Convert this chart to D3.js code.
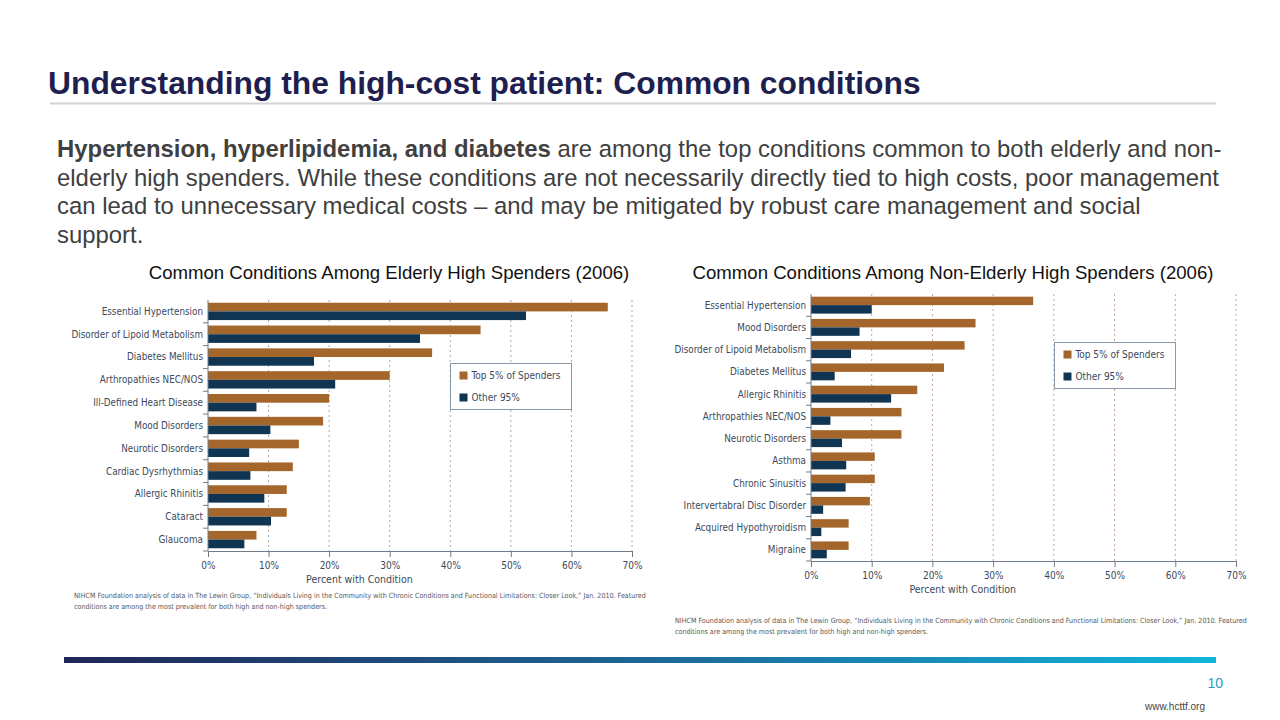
<!DOCTYPE html>
<html>
<head>
<meta charset="utf-8">
<script src="https://cdn.jsdelivr.net/npm/d3@7/dist/d3.min.js"></script>
<style>
  html, body { margin: 0; padding: 0; background: #fff; }
  svg { display: block; }
</style>
</head>
<body>
<svg id="slide" width="1280" height="720"></svg>
<script>
// chart data
const elderlyConditions = ["Essential Hypertension", "Disorder of Lipoid Metabolism", "Diabetes Mellitus",
  "Arthropathies NEC/NOS", "Ill-Defined Heart Disease", "Mood Disorders", "Neurotic Disorders",
  "Cardiac Dysrhythmias", "Allergic Rhinitis", "Cataract", "Glaucoma"];
const elderlyTop5 = [66, 45, 37, 30, 20, 19, 15, 14, 13, 13, 8];
const elderlyOther95 = [52.5, 35, 17.5, 21, 8, 10.3, 6.8, 7, 9.3, 10.4, 6];

const nonElderlyConditions = ["Essential Hypertension", "Mood Disorders", "Disorder of Lipoid Metabolism",
  "Diabetes Mellitus", "Allergic Rhinitis", "Arthropathies NEC/NOS", "Neurotic Disorders", "Asthma",
  "Chronic Sinusitis", "Intervertabral Disc Disorder", "Acquired Hypothyroidism", "Migraine"];
const nonElderlyTop5 = [36.6, 27.1, 25.3, 21.9, 17.5, 14.9, 14.9, 10.5, 10.5, 9.7, 6.2, 6.2];
const nonElderlyOther95 = [10, 8, 6.6, 3.9, 13.2, 3.2, 5.1, 5.8, 5.7, 2.0, 1.7, 2.6];

const xTicks = [0, 10, 20, 30, 40, 50, 60, 70];
const seriesNames = ["Top 5% of Spenders", "Other 95%"];
const seriesColors = ["#a5662c", "#0f3553"];

const footnote = ["NIHCM Foundation analysis of data in The Lewin Group, \u201cIndividuals Living in the Community with Chronic Conditions and Functional Limitations: Closer Look,\u201d Jan. 2010. Featured",
  "conditions are among the most prevalent for both high and non-high spenders."];

const svg = d3.select("#slide");
const chartFont = "'Liberation Sans Narrow', 'DejaVu Sans Condensed', Lato, sans-serif";
const textColor = "#3b4a5b";

// heading
svg.append("text")
  .attr("x", 48).attr("y", 94)
  .attr("fill", "#1e1f4f")
  .style("font-family", "'Liberation Sans', Arial, sans-serif")
  .style("font-size", "31.8px")
  .style("font-weight", "bold")
  .text("Understanding the high-cost patient: Common conditions");

svg.append("line")
  .attr("x1", 50).attr("x2", 1216).attr("y1", 103.5).attr("y2", 103.5)
  .attr("stroke", "#d4d4d4").attr("stroke-width", 2);

// paragraph
const para = svg.append("text")
  .attr("fill", "#404040")
  .style("font-family", "'Liberation Sans', Arial, sans-serif")
  .style("font-size", "23.9px");
const paraLines = [
  [["Hypertension, hyperlipidemia, and diabetes", true], [" are among the top conditions common to both elderly and non-", false]],
  [["elderly high spenders. While these conditions are not necessarily directly tied to high costs, poor management", false]],
  [["can lead to unnecessary medical costs \u2013 and may be mitigated by robust care management and social", false]],
  [["support.", false]]
];
paraLines.forEach((line, i) => {
  line.forEach((part, j) => {
    const t = para.append("tspan").text(part[0]).style("font-weight", part[1] ? "bold" : "normal");
    if (j === 0) t.attr("x", 57).attr("y", 157 + i * 28.6);
  });
});

function drawChart(opts) {
  const g = svg.append("g");
  const x = d3.scaleLinear().domain([0, 70]).range(opts.xRange);
  const y = d3.scaleBand().domain(opts.categories).range(opts.yRange).paddingInner(0.24).paddingOuter(0.12);
  const x0 = x(0);

  // subtitle
  g.append("text")
    .attr("x", opts.titleX).attr("y", opts.titleY)
    .attr("text-anchor", "middle")
    .attr("fill", "#111")
    .style("font-family", "'Liberation Sans', Arial, sans-serif")
    .style("font-size", "18.6px")
    .text(opts.title);

  // grid
  g.selectAll("line.grid").data(xTicks.slice(1)).enter().append("line")
    .attr("x1", d => x(d)).attr("x2", d => x(d))
    .attr("y1", opts.yRange[0]).attr("y2", opts.yRange[1])
    .attr("stroke", opts.gridColor).attr("stroke-width", 1)
    .attr("stroke-dasharray", "2,3");

  // bars
  const half = y.bandwidth() / 2;
  [opts.top5, opts.other95].forEach((vals, s) => {
    g.append("g").selectAll("rect").data(opts.categories).enter().append("rect")
      .attr("x", x0)
      .attr("y", d => y(d) + s * half)
      .attr("width", (d, i) => x(vals[i]) - x0)
      .attr("height", half)
      .attr("fill", seriesColors[s]);
  });

  // axes
  const axisColor = "#6f7d8b";
  const xAxis = g.append("g")
    .attr("transform", `translate(0,${opts.yRange[1]})`)
    .call(d3.axisBottom(x).tickValues(xTicks).tickSize(6).tickSizeOuter(0).tickFormat(d => d + "%"));
  xAxis.select(".domain").attr("stroke", axisColor);
  xAxis.selectAll(".tick line").attr("stroke", axisColor);
  xAxis.selectAll(".tick text")
    .attr("fill", textColor).attr("dy", "0.9em")
    .style("font-family", chartFont).style("font-size", "10px");

  g.append("line")
    .attr("x1", x0).attr("x2", x0)
    .attr("y1", opts.yRange[0]).attr("y2", opts.yRange[1])
    .attr("stroke", axisColor);

  // category separators on the y axis
  const step = y.step();
  const seps = opts.categories.map(d => y(d) - (step - y.bandwidth()) / 2).concat([opts.yRange[1]]);
  g.selectAll("line.sep").data(seps.slice(1)).enter().append("line")
    .attr("x1", x0 - 5).attr("x2", x0)
    .attr("y1", d => d).attr("y2", d => d)
    .attr("stroke", axisColor);

  g.selectAll("text.cat").data(opts.categories).enter().append("text")
    .attr("x", x0 - 5)
    .attr("y", d => y(d) + y.bandwidth() / 2)
    .attr("dy", "0.35em")
    .attr("text-anchor", "end")
    .attr("fill", textColor)
    .style("font-family", chartFont).style("font-size", "9.8px")
    .text(d => d);

  g.append("text")
    .attr("x", x(25)).attr("y", opts.yRange[1] + 32)
    .attr("text-anchor", "middle")
    .attr("fill", textColor)
    .style("font-family", chartFont).style("font-size", "10.5px")
    .text("Percent with Condition");

  // legend
  const lg = g.append("g").attr("transform", `translate(${opts.legend[0]},${opts.legend[1]})`);
  lg.append("rect").attr("width", 121).attr("height", 46)
    .attr("fill", "#fff").attr("stroke", "#8b98a6").attr("stroke-width", 1);
  seriesNames.forEach((name, i) => {
    lg.append("rect").attr("x", 9).attr("y", 8 + i * 22).attr("width", 8).attr("height", 8)
      .attr("fill", seriesColors[i]);
    lg.append("text").attr("x", 21).attr("y", 12 + i * 22).attr("dy", "0.35em")
      .attr("fill", textColor)
      .style("font-family", chartFont).style("font-size", "10px")
      .text(name);
  });

  // source note
  g.selectAll("text.note").data(footnote).enter().append("text")
    .attr("x", opts.note[0]).attr("y", (d, i) => opts.note[1] + i * 11)
    .attr("fill", "#555")
    .style("font-family", chartFont).style("font-size", "7.1px")
    .text(d => d);
}

drawChart({
  title: "Common Conditions Among Elderly High Spenders (2006)",
  titleX: 389, titleY: 279,
  categories: elderlyConditions, top5: elderlyTop5, other95: elderlyOther95,
  xRange: [208, 632], yRange: [300, 551],
  gridColor: "#a9a9a9",
  legend: [450.5, 363.5],
  note: [74, 598]
});

drawChart({
  title: "Common Conditions Among Non-Elderly High Spenders (2006)",
  titleX: 953, titleY: 279,
  categories: nonElderlyConditions, top5: nonElderlyTop5, other95: nonElderlyOther95,
  xRange: [811, 1236], yRange: [294, 561],
  gridColor: "#c9a396",
  legend: [1054.5, 342.5],
  note: [675, 623]
});

// footer band
const grad = svg.append("defs").append("linearGradient").attr("id", "band");
grad.append("stop").attr("offset", "0%").attr("stop-color", "#1f2657");
grad.append("stop").attr("offset", "55%").attr("stop-color", "#1d6d9c");
grad.append("stop").attr("offset", "100%").attr("stop-color", "#12b5da");
svg.append("rect").attr("x", 64).attr("y", 657).attr("width", 1152).attr("height", 6)
  .attr("fill", "url(#band)");

svg.append("text").attr("x", 1223).attr("y", 688).attr("text-anchor", "end")
  .attr("fill", "#2b9cc0")
  .style("font-family", "'Liberation Sans Narrow', 'Liberation Sans', sans-serif").style("font-size", "14px")
  .text("10");
svg.append("text").attr("x", 1205).attr("y", 710).attr("text-anchor", "end")
  .attr("fill", "#444")
  .style("font-family", "'Liberation Sans Narrow', 'Liberation Sans', sans-serif").style("font-size", "10px")
  .text("www.hcttf.org");
</script>
</body>
</html>
